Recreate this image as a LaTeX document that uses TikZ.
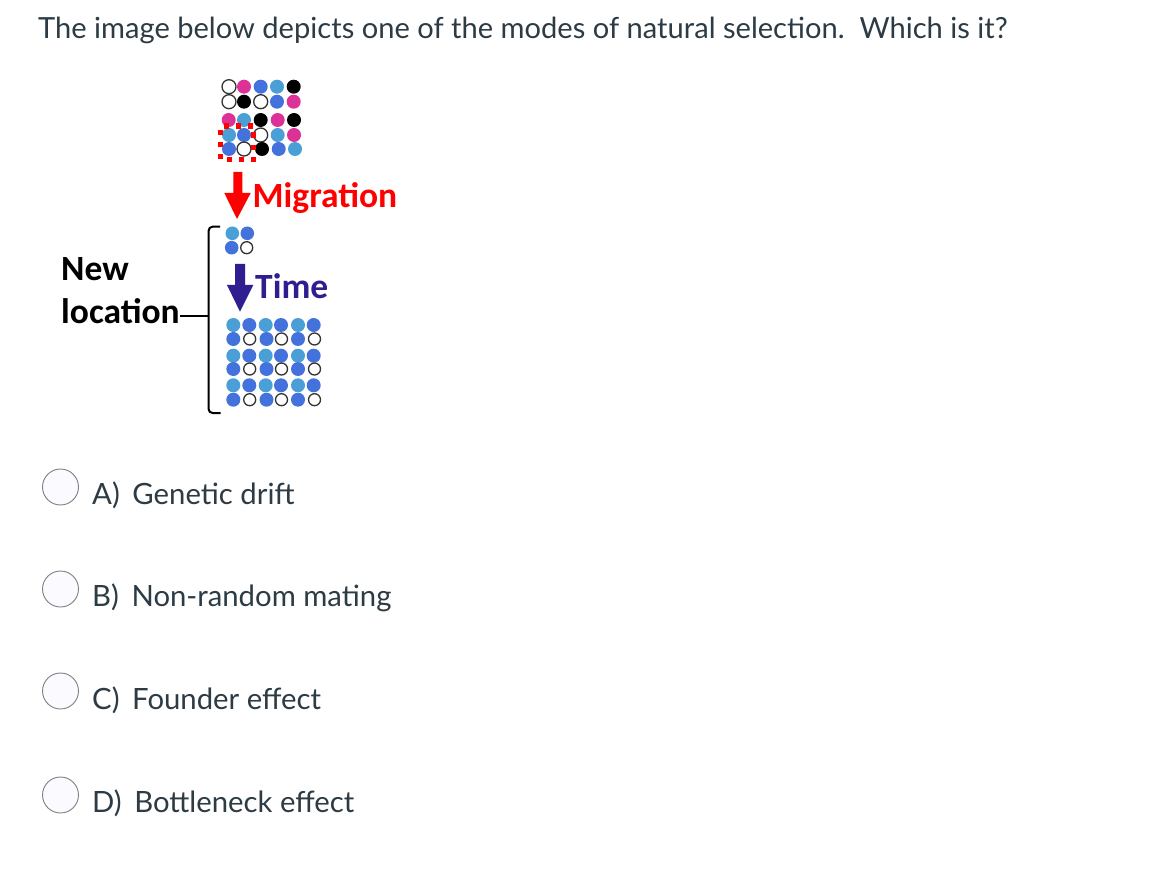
\documentclass[tikz,border=0pt]{standalone}
\usepackage{fontspec}
\setmainfont{Lato}
\newfontfamily\labelfont{Carlito}[BoldFont={Carlito Bold}]
\definecolor{inktext}{HTML}{2D3B45}
\definecolor{pinkdot}{HTML}{DC3298}
\definecolor{royaldot}{HTML}{4472DC}
\definecolor{lightdot}{HTML}{4A9FD6}
\definecolor{timeblue}{HTML}{2E1E90}
\tikzset{
  qtext/.style={anchor=base west,inner sep=0pt,text=inktext,font=\fontsize{29.1}{30}\selectfont},
  optext/.style={anchor=base west,inner sep=0pt,text=inktext,font=\fontsize{29.3}{30}\selectfont},
  radio/.style={circle,draw=black!50,line width=0.9pt,fill=blue!2,minimum size=36pt,inner sep=0pt},
  biglabel/.style={anchor=base west,inner sep=0pt,font=\labelfont\bfseries\fontsize{35.5}{36}\selectfont},
  dotw/.style={draw=black!80,line width=1.3pt,fill=white},
  dotp/.style={fill=pinkdot},
  dotr/.style={fill=royaldot},
  dotl/.style={fill=lightdot},
  dotk/.style={fill=black},
  brace/.style={line width=2pt,black}
}
\newcommand{\dotrow}[3]{%
  \foreach \xpos/\kind in {#2} {
    \path[\kind] (\xpos,#1) circle (#3);
  }}
\begin{document}
\begin{tikzpicture}[x=1pt,y=-1pt]
  \useasboundingbox (0,0) rectangle (1156,882);
  \fill[white] (0,0) rectangle (1156,882);
  % Question
  \node[qtext] (question) at (38,39) {The image below depicts one of the modes of natural selection.\ \ Which is it?};
  % Source population
  \dotrow{86.7}{229/dotw,244/dotp,260.7/dotr,277/dotl,293.7/dotk}{7}
  \dotrow{101.7}{229/dotw,244/dotk,260.7/dotw,277/dotr,293.7/dotp}{7}
  \dotrow{120}{228.7/dotp,244/dotl,260.7/dotk,277.7/dotp,294/dotk}{7}
  \dotrow{135}{229/dotl,244/dotr,260.7/dotw,277.7/dotl,294/dotp}{7}
  \dotrow{149}{229/dotr,244/dotw,262/dotk,278.7/dotr,295/dotl}{7}
  % Dotted box
  \foreach \sqx/\sqy in {226.7/126,238.7/126,250.7/126,220.7/132.3,220.7/144.3,220.7/156.3,
      229.3/159.3,241.7/159.3,253.7/159.3,253.3/135,253.3/147.3} {
    \fill[red] (\sqx-2.7,\sqy-2.7) rectangle (\sqx+2.7,\sqy+2.7);
  }
  % Arrows
  \fill[red] (233.3,172) -- (242.3,172) -- (242.3,193) -- (250.7,193) -- (237,219)
    -- (224.3,193) -- (233.3,193) -- cycle;
  \fill[timeblue] (235,264) -- (245,264) -- (245,285) -- (253.3,285) -- (240,311.7)
    -- (227,285) -- (235,285) -- cycle;
  \node[biglabel,text=red] (migration) at (252.5,207.5) {Migration};
  \node[biglabel,text=timeblue] (timelabel) at (255,299) {Time};
  % Founders
  \dotrow{233.3}{232.3/dotl,247.3/dotr}{6.8}
  \dotrow{247.7}{231.7/dotr}{6.8}
  \dotrow{247.7}{246.7/dotw}{6}
  % Bracket
  \node[biglabel,text=black] (new) at (61,280.5) {New};
  \node[biglabel,text=black] (location) at (61,324) {location};
  \coordinate (bracetop) at (220,226.7);
  \coordinate (bracemid) at (208.6,316.3);
  \coordinate (bracebot) at (220.7,413);
  \draw[brace,rounded corners=4pt] (bracetop) -- (bracetop-|bracemid) -- (bracebot-|bracemid) -- (bracebot);
  \draw[brace] (location.east|-bracemid) -- (bracemid);
  % New population
  \foreach \rowy in {325,355.7,385.3} {
    \dotrow{\rowy}{233.3/dotl,249.3/dotr,265.7/dotl,281/dotr,298/dotl,313.7/dotr}{7}
  }
  \foreach \rowy in {339,369,399.7} {
    \dotrow{\rowy}{233.3/dotr,266.5/dotr,298/dotr}{7}
    \dotrow{\rowy}{249.7/dotw,281.5/dotw,314.5/dotw}{6}
  }
  % Options
  \node[radio] (radioa) at (60.5,487) {};
  \node[radio] (radiob) at (60.5,589) {};
  \node[radio] (radioc) at (60.5,691) {};
  \node[radio] (radiod) at (60.5,795) {};
  \node[optext] (opta) at (92,504) {A)\hspace{12.6pt}Genetic drift};
  \node[optext] (optb) at (92,606) {B)\hspace{12.6pt}Non-random mating};
  \node[optext] (optc) at (92,709) {C)\hspace{12.6pt}Founder effect};
  \node[optext] (optd) at (92,812) {D)\hspace{12.6pt}Bottleneck effect};
\end{tikzpicture}
\end{document}
